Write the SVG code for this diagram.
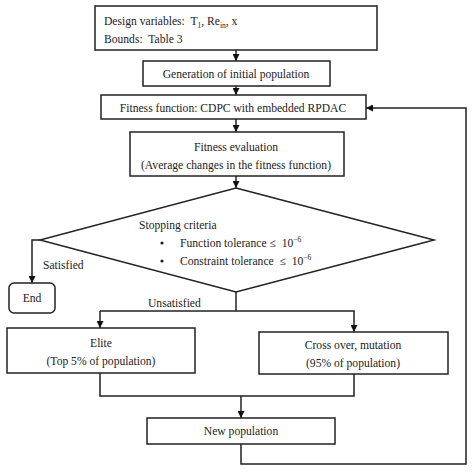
<svg xmlns="http://www.w3.org/2000/svg" width="474" height="472" viewBox="0 0 474 472">
<defs>
<marker id="ah" viewBox="0 0 10 10" refX="10" refY="5" markerWidth="7" markerHeight="7" orient="auto" markerUnits="userSpaceOnUse">
<path d="M0,0 L10,5 L0,10 z" fill="#111"/>
</marker>
<style>
.b{fill:#fff;stroke:#222;stroke-width:1.5}
.c{fill:none;stroke:#222;stroke-width:1.5}
text{font-family:"Liberation Serif","Times New Roman",serif;font-size:11.6px;fill:#222}
.m{text-anchor:middle}
.s{font-size:7.5px}
</style>
</defs>
<rect width="474" height="472" fill="#fff"/>
<g id="connectors">
<line class="c" x1="236" y1="50" x2="236" y2="61" marker-end="url(#ah)"/>
<line class="c" x1="236" y1="86" x2="236" y2="95" marker-end="url(#ah)"/>
<line class="c" x1="236" y1="119" x2="236" y2="132" marker-end="url(#ah)"/>
<line class="c" x1="236" y1="176" x2="236" y2="188" marker-end="url(#ah)"/>
<polyline class="c" points="40,240 32,240 32,283" marker-end="url(#ah)"/>
<line class="c" x1="236" y1="292" x2="236" y2="311"/>
<polyline class="c" points="100,311 354,311 354,332" marker-end="url(#ah)"/>
<line class="c" x1="100" y1="311" x2="100" y2="328" marker-end="url(#ah)"/>
<polyline class="c" points="100,373 100,396 354,396 354,374"/>
<line class="c" x1="241" y1="396" x2="241" y2="418" marker-end="url(#ah)"/>
<polyline class="c" points="241,444 241,464 466,464 466,108 366,108" marker-end="url(#ah)"/>
<text x="43" y="269">Satisfied</text>
<text x="148" y="307">Unsatisfied</text>
</g>
<g id="n1">
<rect class="b" x="95" y="6" width="282" height="44"/>
<text x="104" y="25">Design variables:&#160; T<tspan class="s" dy="3">1</tspan><tspan dy="-3">, Re</tspan><tspan class="s" dy="3">in</tspan><tspan dy="-3">, x</tspan></text>
<text x="104" y="43">Bounds:&#160; Table 3</text>
</g>
<g id="n2">
<rect class="b" x="143" y="61" width="187" height="25"/>
<text class="m" x="236" y="78">Generation of initial population</text>
</g>
<g id="n3">
<rect class="b" x="101" y="95" width="265" height="24"/>
<text class="m" x="233" y="112">Fitness function: CDPC with embedded RPDAC</text>
</g>
<g id="n4">
<rect class="b" x="130" y="132" width="214" height="44"/>
<text class="m" x="236" y="151">Fitness evaluation</text>
<text class="m" x="236" y="169">(Average changes in the fitness function)</text>
</g>
<g id="n5">
<polygon class="b" points="236,188 434,240 236,292 40,240"/>
<text x="139" y="229">Stopping criteria</text>
<circle cx="162" cy="243" r="1.6" fill="#222"/>
<circle cx="162" cy="261" r="1.6" fill="#222"/>
<text x="180" y="247">Function tolerance ≤&#160; 10<tspan class="s" dy="-5">−6</tspan></text>
<text x="180" y="265">Constraint tolerance&#160; ≤&#160; 10<tspan class="s" dy="-5">−6</tspan></text>
</g>
<g id="n6">
<rect class="b" x="9" y="283" width="46" height="30" rx="5"/>
<text class="m" x="32" y="302">End</text>
</g>
<g id="n7">
<rect class="b" x="7" y="328" width="188" height="45"/>
<text class="m" x="101" y="347">Elite</text>
<text class="m" x="101" y="365">(Top 5% of population)</text>
</g>
<g id="n8">
<rect class="b" x="259" y="332" width="189" height="42"/>
<text class="m" x="353" y="349">Cross over, mutation</text>
<text class="m" x="353" y="367">(95% of population)</text>
</g>
<g id="n9">
<rect class="b" x="147" y="418" width="188" height="26"/>
<text class="m" x="241" y="435">New population</text>
</g>
</svg>
